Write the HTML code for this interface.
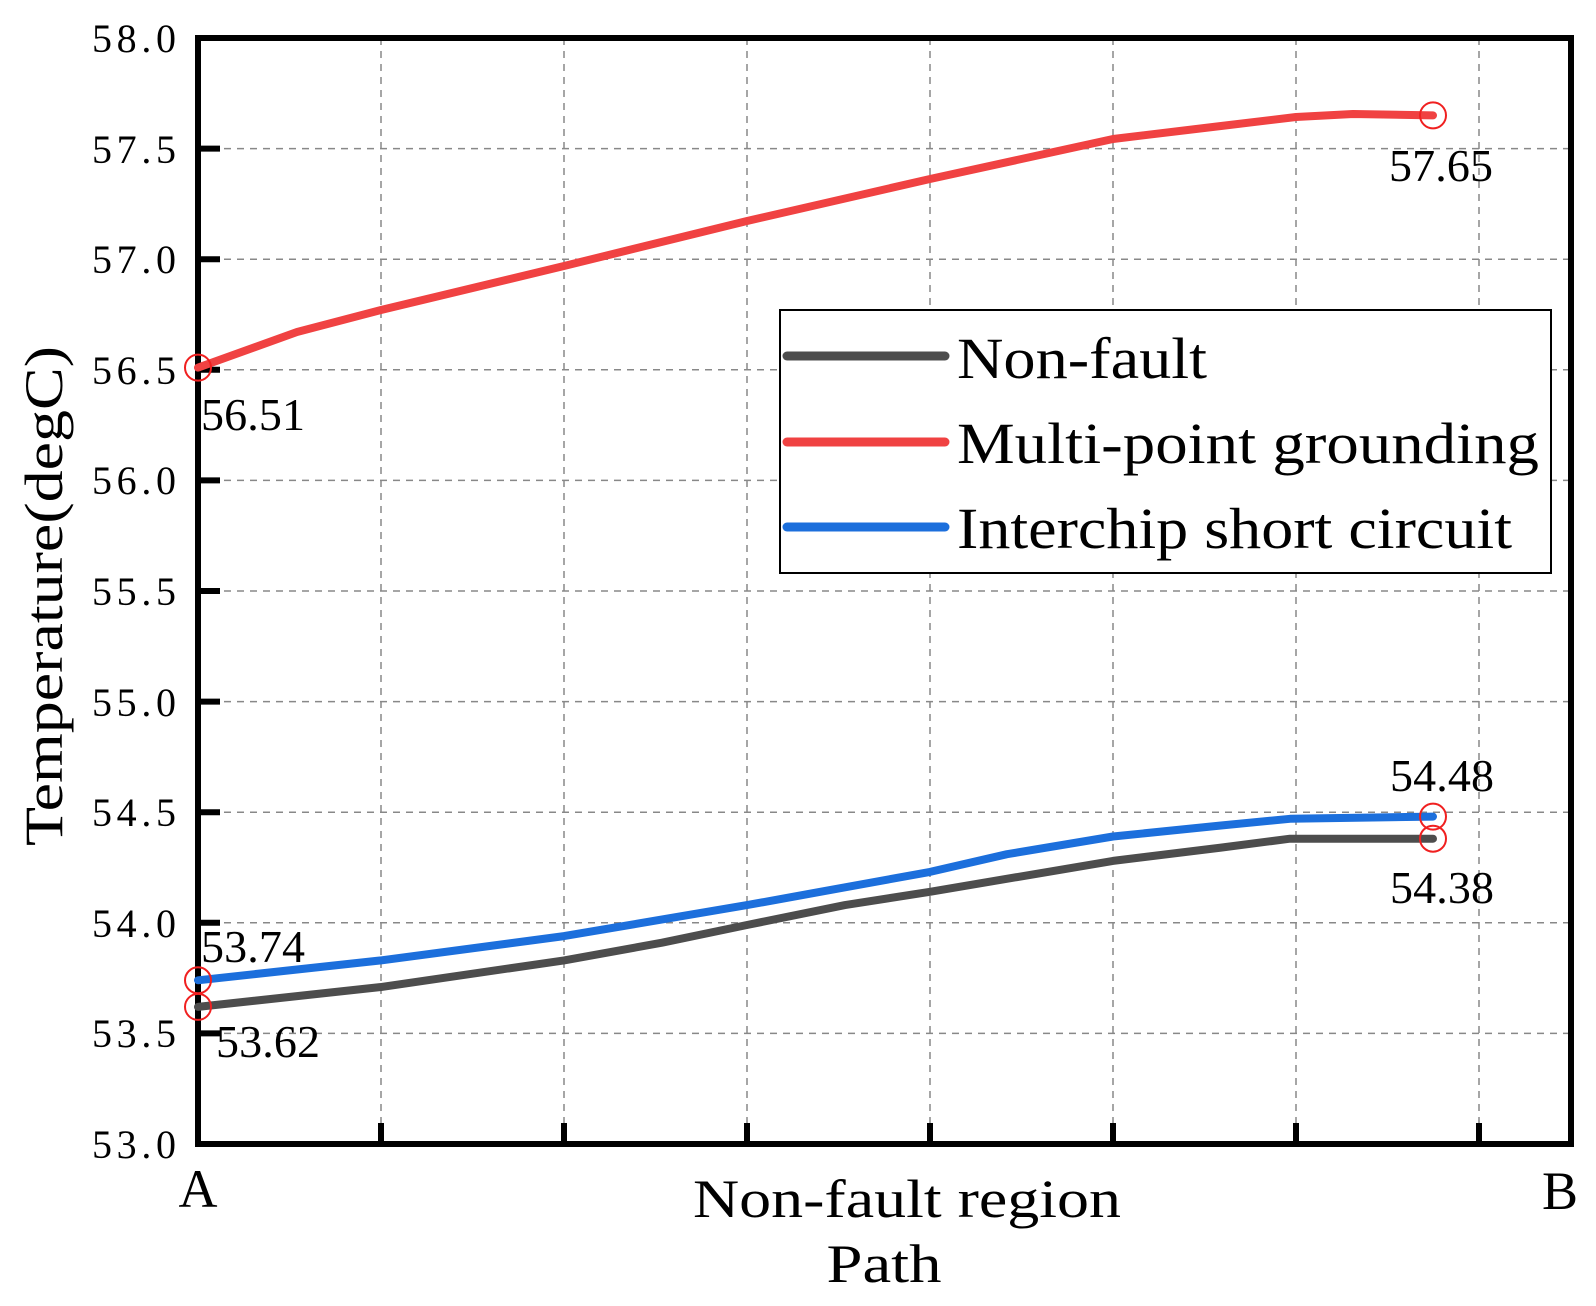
<!DOCTYPE html>
<html><head><meta charset="utf-8"><style>html,body{margin:0;padding:0;background:#fff}</style></head>
<body>
<svg width="1596" height="1301" viewBox="0 0 1596 1301" xmlns="http://www.w3.org/2000/svg" font-family="Liberation Serif, serif">
<g stroke="#888" stroke-width="1.5" stroke-dasharray="7,6" fill="none">
<path d="M381 38V1144M564 38V1144M747 38V1144M930 38V1144M1113 38V1144M1296 38V1144M1479 38V1144"/>
<path d="M198 148.6H1571M198 259.2H1571M198 369.8H1571M198 480.4H1571M198 591H1571M198 701.6H1571M198 812.2H1571M198 922.8H1571M198 1033.4H1571"/>
</g>
<g stroke="#000" stroke-width="6">
<path d="M198 148.6H220M198 259.2H220M198 369.8H220M198 480.4H220M198 591H220M198 701.6H220M198 812.2H220M198 922.8H220M198 1033.4H220"/>
<path d="M381 1144V1123M564 1144V1123M747 1144V1123M930 1144V1123M1113 1144V1123M1296 1144V1123M1479 1144V1123"/>
</g>
<rect x="198" y="38" width="1373" height="1106" fill="none" stroke="#000" stroke-width="6"/>
<g font-size="40" text-anchor="end">
<text x="176" y="52" textLength="84">58.0</text><text x="176" y="163" textLength="84">57.5</text><text x="176" y="273" textLength="84">57.0</text><text x="176" y="384" textLength="84">56.5</text><text x="176" y="494" textLength="84">56.0</text><text x="176" y="605" textLength="84">55.5</text><text x="176" y="716" textLength="84">55.0</text><text x="176" y="826" textLength="84">54.5</text><text x="176" y="937" textLength="84">54.0</text><text x="176" y="1047" textLength="84">53.5</text><text x="176" y="1158" textLength="84">53.0</text>
</g>
<text transform="translate(62,596) rotate(-90)" font-size="54" text-anchor="middle" textLength="500" lengthAdjust="spacingAndGlyphs">Temperature(degC)</text>
<g font-size="54" text-anchor="middle">
<text x="198" y="1207">A</text><text x="1560" y="1209">B</text>
<text x="907" y="1217" textLength="428" lengthAdjust="spacingAndGlyphs">Non-fault region</text><text x="884" y="1282" textLength="115" lengthAdjust="spacingAndGlyphs">Path</text>
</g>
<g fill="none" stroke-width="8" stroke-linejoin="round" stroke-linecap="round">
<polyline stroke="#f04242" points="198,367.6 297,332 381,310 564,266 747,221 930,179 1113,139 1221,126 1296,117 1353,114 1433,115.4"/>
<polyline stroke="#4d4d4d" points="198,1006.9 381,987 564,960.4 662,942.7 747,925 845,905.1 930,891.8 1113,860.9 1221,847.6 1290,838.7 1433,838.7"/>
<polyline stroke="#1c6fdc" points="198,980.3 381,960.4 564,936.1 747,905.1 930,871.9 1007,854.2 1113,836.5 1221,825.5 1290,818.8 1433,816.6"/>
</g>
<g fill="none" stroke="#f02020" stroke-width="2">
<circle cx="198" cy="367.6" r="13"/><circle cx="198" cy="1006.9" r="13"/><circle cx="198" cy="980.3" r="13"/>
<circle cx="1433" cy="115.4" r="13"/><circle cx="1433" cy="838.7" r="13"/><circle cx="1433" cy="816.6" r="13"/>
</g>
<g font-size="46">
<text x="1389" y="181" textLength="104">57.65</text>
<text x="201" y="430" textLength="104">56.51</text>
<text x="201" y="962" textLength="104">53.74</text>
<text x="216" y="1057" textLength="104">53.62</text>
<text x="1390" y="791" textLength="104">54.48</text>
<text x="1390" y="903" textLength="104">54.38</text>
</g>
<rect x="780" y="310" width="771" height="263" fill="#fff" stroke="#000" stroke-width="2"/>
<g stroke-width="9" stroke-linecap="round">
<path d="M787 356H945" stroke="#4d4d4d"/><path d="M787 442H945" stroke="#f04242"/><path d="M787 527H945" stroke="#1c6fdc"/>
</g>
<g font-size="58">
<text x="957" y="378" textLength="250" lengthAdjust="spacingAndGlyphs">Non-fault</text>
<text x="957" y="463" textLength="582" lengthAdjust="spacingAndGlyphs">Multi-point grounding</text>
<text x="957" y="548" textLength="555" lengthAdjust="spacingAndGlyphs">Interchip short circuit</text>
</g>
</svg>
</body></html>
